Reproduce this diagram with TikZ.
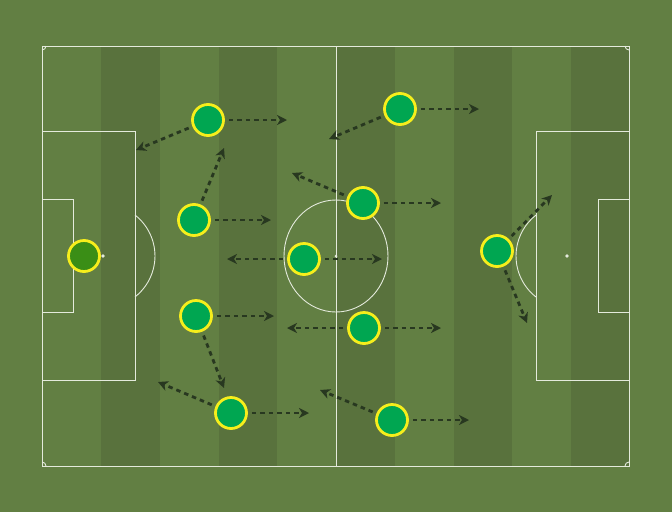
\documentclass[tikz,border=0pt]{standalone}
\usepackage{tikz}
\usetikzlibrary{arrows,arrows.meta}

\definecolor{grass}{RGB}{98,127,67}
\definecolor{stripe}{RGB}{89,114,61}
\definecolor{chalk}{RGB}{228,234,220}
\definecolor{kit}{RGB}{0,166,81}
\definecolor{keeper}{RGB}{58,142,22}
\definecolor{trim}{RGB}{246,238,28}
\definecolor{run}{RGB}{40,56,32}

\begin{document}
\begin{tikzpicture}
  [x=1pt,y=-1pt,
   line/.style={draw=chalk,line width=0.9pt},
   player/.style={circle,draw=trim,fill=kit,line width=2.8pt,minimum size=31pt,inner sep=0pt},
   gk/.style={player,fill=keeper},
   move/.style={draw=run,line width=2.8pt,dash pattern=on 4.5pt off 4pt,
                -{Stealth[length=10pt,width=10pt,inset=3pt]},shorten <=4pt}]
  % grass and stripes
  \fill[grass] (0,0) rectangle (672,512);
  \useasboundingbox (0,0) rectangle (672,512);
  \foreach \x in {101,218.5,336,453.5,571}
    \fill[stripe] (\x,46) rectangle ++(58.5,420);
  % markings
  \draw[line] (42,46) rectangle (629,466);
  \draw[line] (336,46) -- (336,466);
  \draw[line] (336,256) ellipse (52 and 56);
  \fill[chalk] (336,256) circle (1.5);
  \draw[line] (42,131) rectangle (135,380);
  \draw[line] (42,199) rectangle (73,312);
  \fill[chalk] (103,256) circle (1.8);
  \draw[line] (135,215) arc[start angle=-52,end angle=52,radius=52];
  \draw[line] (536,131) rectangle (629,380);
  \draw[line] (598,199) rectangle (629,312);
  \fill[chalk] (567,256) circle (1.8);
  \draw[line] (536,297) arc[start angle=128,end angle=232,radius=52];
  \draw[line] (46,46) arc[start angle=0,end angle=90,radius=4];
  \draw[line] (625,46) arc[start angle=180,end angle=90,radius=4];
  \draw[line] (46,466) arc[start angle=0,end angle=-90,radius=4];
  \draw[line] (625,466) arc[start angle=180,end angle=270,radius=4];
  % players
  \node[gk] (gk) at (84,256) {};
  \node[player] (p1) at (208,120) {};
  \node[player] (p2) at (194,220) {};
  \node[player] (p3) at (196,316) {};
  \node[player] (p4) at (231,413) {};
  \node[player] (p5) at (400,109) {};
  \node[player] (p6) at (363,203) {};
  \node[player] (p7) at (304,259) {};
  \node[player] (p8) at (364,328) {};
  \node[player] (p9) at (392,420) {};
  \node[player] (p10) at (497,251) {};
  % runs
  \foreach \n/\x/\y in {a1/287/120,b1/136/150,a2/224/148,b2/271/220,a3/274/316,b3/224/388,
                        a4/158/382,b4/309/413,a5/479/109,b5/329/139,a6/292/173,b6/441/203,
                        a7/227/259,b7/382/259,a8/287/328,b8/441/328,a9/320/390,b9/469/420,
                        a10/552/195,b10/527/323}
    \coordinate (\n) at (\x,\y);
  \foreach \from/\to in {p1/a1,p1/b1,p2/a2,p2/b2,p3/a3,p3/b3,p4/a4,p4/b4,p5/a5,p5/b5,
                         p6/a6,p6/b6,p7/a7,p7/b7,p8/a8,p8/b8,p9/a9,p9/b9,p10/a10,p10/b10}
    \draw[move] (\from) -- (\to);
\end{tikzpicture}
\end{document}
